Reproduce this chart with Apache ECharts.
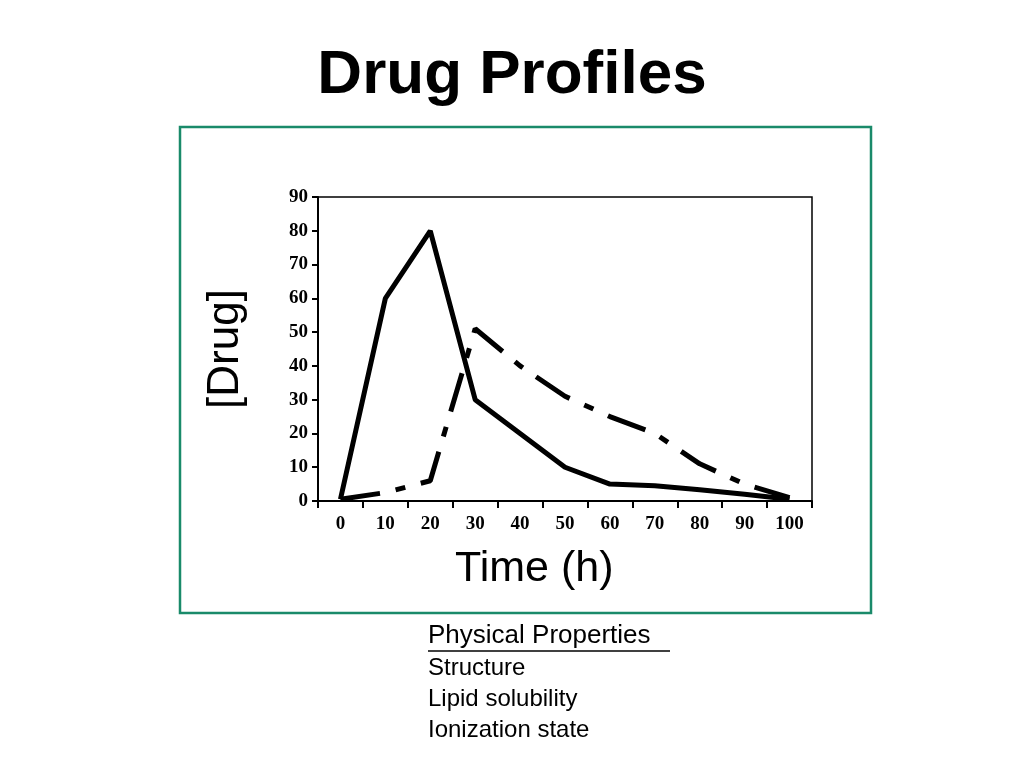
<!DOCTYPE html>
<html><head><meta charset="utf-8">
<script src="https://cdn.jsdelivr.net/npm/echarts@6/dist/echarts.min.js"></script>
<style>html,body{margin:0;padding:0;background:#fff}#c{width:1024px;height:768px}</style>
</head><body><div id="c"></div>
<script>
const categories = ['0','10','20','30','40','50','60','70','80','90','100'];
const solidSeries = [0.5, 60, 80, 30, 20, 10, 5, 4.5, 3.3, 2, 0.5];
const dashedSeries = [0.5, 2.5, 6, 51, 40, 31, 25, 20, 11, 5, 1];
const yTicks = {min: 0, max: 90, interval: 10};
const notes = ['Structure', 'Lipid solubility', 'Ionization state'];

const chart = echarts.init(document.getElementById('c'));
const lbl = {fontFamily: 'Liberation Serif', fontWeight: 'bold', fontSize: 19, color: '#000'};
chart.setOption({
  animation: false,
  title: {text: 'Drug Profiles', left: 'center', top: 40,
    textStyle: {fontFamily: 'Liberation Sans', fontWeight: 'bold', fontSize: 62, color: '#000'}},
  grid: {left: 318, right: 212, top: 197, bottom: 267, show: true, borderColor: '#000', borderWidth: 1.5},
  xAxis: {type: 'category', data: categories, boundaryGap: true,
    axisLine: {lineStyle: {color: '#000', width: 2}},
    axisTick: {show: true, length: 7, lineStyle: {color: '#000', width: 2}},
    axisLabel: Object.assign({margin: 14}, lbl), splitLine: {show: false}},
  yAxis: {type: 'value', min: yTicks.min, max: yTicks.max, interval: yTicks.interval,
    name: '[Drug]', nameLocation: 'middle', nameGap: 70, nameRotate: 90,
    nameTextStyle: {fontFamily: 'Liberation Sans', fontSize: 44, color: '#000'},
    axisLine: {show: true, lineStyle: {color: '#000', width: 2}},
    axisTick: {show: true, length: 6, lineStyle: {color: '#000', width: 2}},
    axisLabel: Object.assign({margin: 10}, lbl), splitLine: {show: false}},
  series: [
    {type: 'line', data: solidSeries, symbol: 'none', lineStyle: {color: '#000', width: 5}},
    {type: 'line', data: dashedSeries, symbol: 'none',
      lineStyle: {color: '#000', width: 5, type: [40, 16, 10, 16]}}
  ],
  graphic: [
    {type: 'rect', shape: {x: 180, y: 127, width: 691, height: 486},
      style: {fill: 'none', stroke: '#1a8a6a', lineWidth: 2.5}, z: -1},
    {type: 'text', left: 455, top: 548, style: {text: 'Time (h)', fontFamily: 'Liberation Sans', fontSize: 43, fill: '#000'}},
    {type: 'text', left: 428, top: 623, style: {text: 'Physical Properties', fontFamily: 'Liberation Sans', fontSize: 26, fill: '#000'}},
    {type: 'line', shape: {x1: 428, y1: 651, x2: 670, y2: 651}, style: {stroke: '#000', lineWidth: 1.5}},
    {type: 'text', left: 428, top: 656, style: {text: notes[0], fontFamily: 'Liberation Sans', fontSize: 24, fill: '#000'}},
    {type: 'text', left: 428, top: 687, style: {text: notes[1], fontFamily: 'Liberation Sans', fontSize: 24, fill: '#000'}},
    {type: 'text', left: 428, top: 718, style: {text: notes[2], fontFamily: 'Liberation Sans', fontSize: 24, fill: '#000'}}
  ]
});
</script></body></html>
